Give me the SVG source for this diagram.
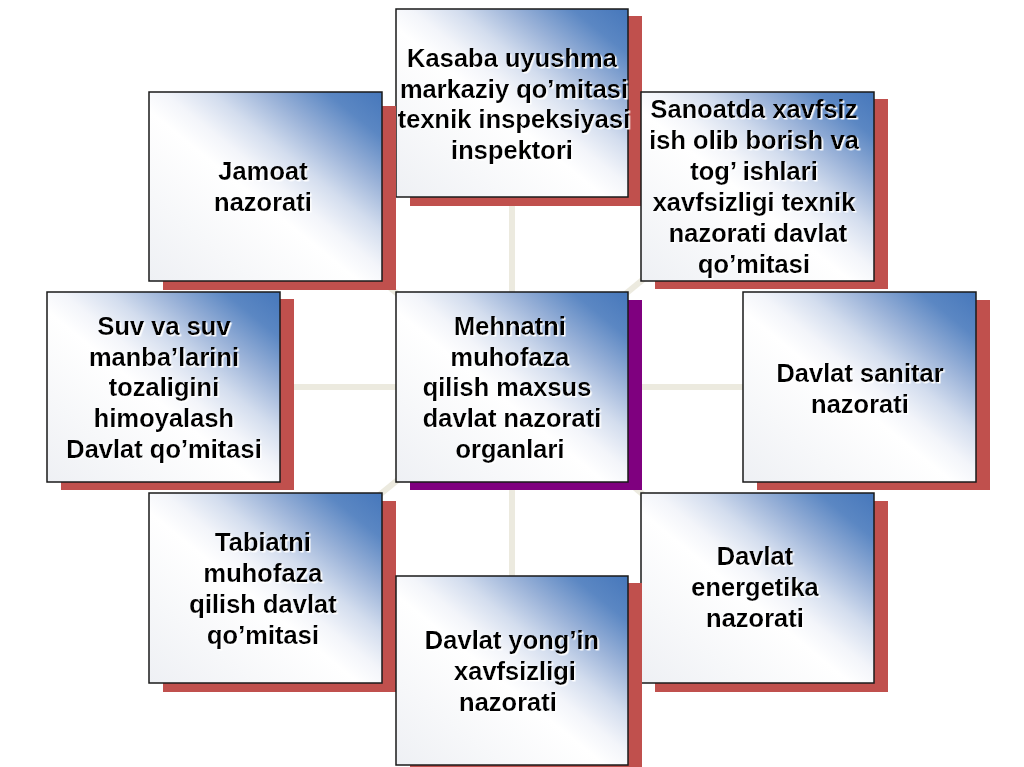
<svg xmlns="http://www.w3.org/2000/svg" width="1024" height="767" viewBox="0 0 1024 767">
<defs>
<linearGradient id="g" x1="1" y1="0" x2="0" y2="1">
<stop offset="0" stop-color="#4677bb"/>
<stop offset="0.12" stop-color="#5b87c3"/>
<stop offset="0.25" stop-color="#9ab2d8"/>
<stop offset="0.37" stop-color="#d3ddee"/>
<stop offset="0.47" stop-color="#f3f5fa"/>
<stop offset="0.55" stop-color="#ffffff"/>
<stop offset="1" stop-color="#eef0f4"/>
</linearGradient>
<filter id="ts" x="-5%" y="-20%" width="110%" height="140%">
<feDropShadow dx="1.5" dy="1.5" stdDeviation="0" flood-color="#ffffff" flood-opacity="1"/>
</filter>
</defs>
<style>
.box{fill:url(#g);stroke:#1a1a1a;stroke-width:1.5}
.sh{fill:#c0504d}
.shp{fill:#7f007f}
.t{font-family:"Liberation Sans",Arial,sans-serif;font-weight:bold;font-size:25.5px;fill:#000;text-anchor:middle;filter:url(#ts)}
.c{stroke:#eceadf;stroke-width:6;fill:none}
</style>
<rect width="1024" height="767" fill="#ffffff"/>
<g id="connectors">
<line class="c" x1="512" y1="103" x2="512" y2="670"/>
<line class="c" x1="164" y1="387" x2="860" y2="387"/>
<line class="c" x1="512" y1="387" x2="265" y2="186"/>
<line class="c" x1="512" y1="387" x2="757" y2="186"/>
<line class="c" x1="512" y1="387" x2="265" y2="588"/>
<line class="c" x1="512" y1="387" x2="757" y2="588"/>
</g>
<g id="node-kasaba">
<rect class="sh" x="410" y="16" width="232" height="190"/>
<rect class="box" x="396" y="9" width="232" height="188"/>
<text class="t"><tspan x="512" y="67">Kasaba uyushma</tspan><tspan x="514" y="98">markaziy qo’mitasi</tspan><tspan x="514" y="128">texnik inspeksiyasi</tspan><tspan x="512" y="159">inspektori</tspan></text>
</g>
<g id="node-jamoat">
<rect class="sh" x="163" y="106" width="233" height="184"/>
<rect class="box" x="149" y="92" width="233" height="189"/>
<text class="t"><tspan x="263" y="180">Jamoat</tspan><tspan x="263" y="211">nazorati</tspan></text>
</g>
<g id="node-sanoatda">
<rect class="sh" x="655" y="99" width="233" height="190"/>
<rect class="box" x="641" y="92" width="233" height="189"/>
<text class="t"><tspan x="754" y="118">Sanoatda xavfsiz</tspan><tspan x="754" y="149">ish olib borish va</tspan><tspan x="754" y="180">tog’ ishlari</tspan><tspan x="754" y="211">xavfsizligi texnik</tspan><tspan x="758" y="242">nazorati davlat</tspan><tspan x="754" y="273">qo’mitasi</tspan></text>
</g>
<g id="node-suv">
<rect class="sh" x="61" y="299" width="233" height="191"/>
<rect class="box" x="47" y="292" width="233" height="190"/>
<text class="t"><tspan x="164" y="335">Suv va suv</tspan><tspan x="164" y="366">manba’larini</tspan><tspan x="164" y="396">tozaligini</tspan><tspan x="164" y="427">himoyalash</tspan><tspan x="164" y="458">Davlat qo’mitasi</tspan></text>
</g>
<g id="node-center">
<rect class="shp" x="410" y="300" width="232" height="190"/>
<rect class="box" x="396" y="292" width="232" height="190"/>
<text class="t"><tspan x="510" y="335">Mehnatni</tspan><tspan x="510" y="366">muhofaza</tspan><tspan x="507" y="396">qilish maxsus</tspan><tspan x="512" y="427">davlat nazorati</tspan><tspan x="510" y="458">organlari</tspan></text>
</g>
<g id="node-sanitar">
<rect class="sh" x="757" y="300" width="233" height="190"/>
<rect class="box" x="743" y="292" width="233" height="190"/>
<text class="t"><tspan x="860" y="382">Davlat sanitar</tspan><tspan x="860" y="413">nazorati</tspan></text>
</g>
<g id="node-tabiatni">
<rect class="sh" x="163" y="501" width="233" height="191"/>
<rect class="box" x="149" y="493" width="233" height="190"/>
<text class="t"><tspan x="263" y="551">Tabiatni</tspan><tspan x="263" y="582">muhofaza</tspan><tspan x="263" y="613">qilish davlat</tspan><tspan x="263" y="644">qo’mitasi</tspan></text>
</g>
<g id="node-energetika">
<rect class="sh" x="655" y="501" width="233" height="191"/>
<rect class="box" x="641" y="493" width="233" height="190"/>
<text class="t"><tspan x="755" y="565">Davlat</tspan><tspan x="755" y="596">energetika</tspan><tspan x="755" y="627">nazorati</tspan></text>
</g>
<g id="node-yongin">
<rect class="sh" x="410" y="583" width="232" height="190"/>
<rect class="box" x="396" y="576" width="232" height="189"/>
<text class="t"><tspan x="512" y="649">Davlat yong’in</tspan><tspan x="515" y="680">xavfsizligi</tspan><tspan x="508" y="711">nazorati</tspan></text>
</g>
</svg>
